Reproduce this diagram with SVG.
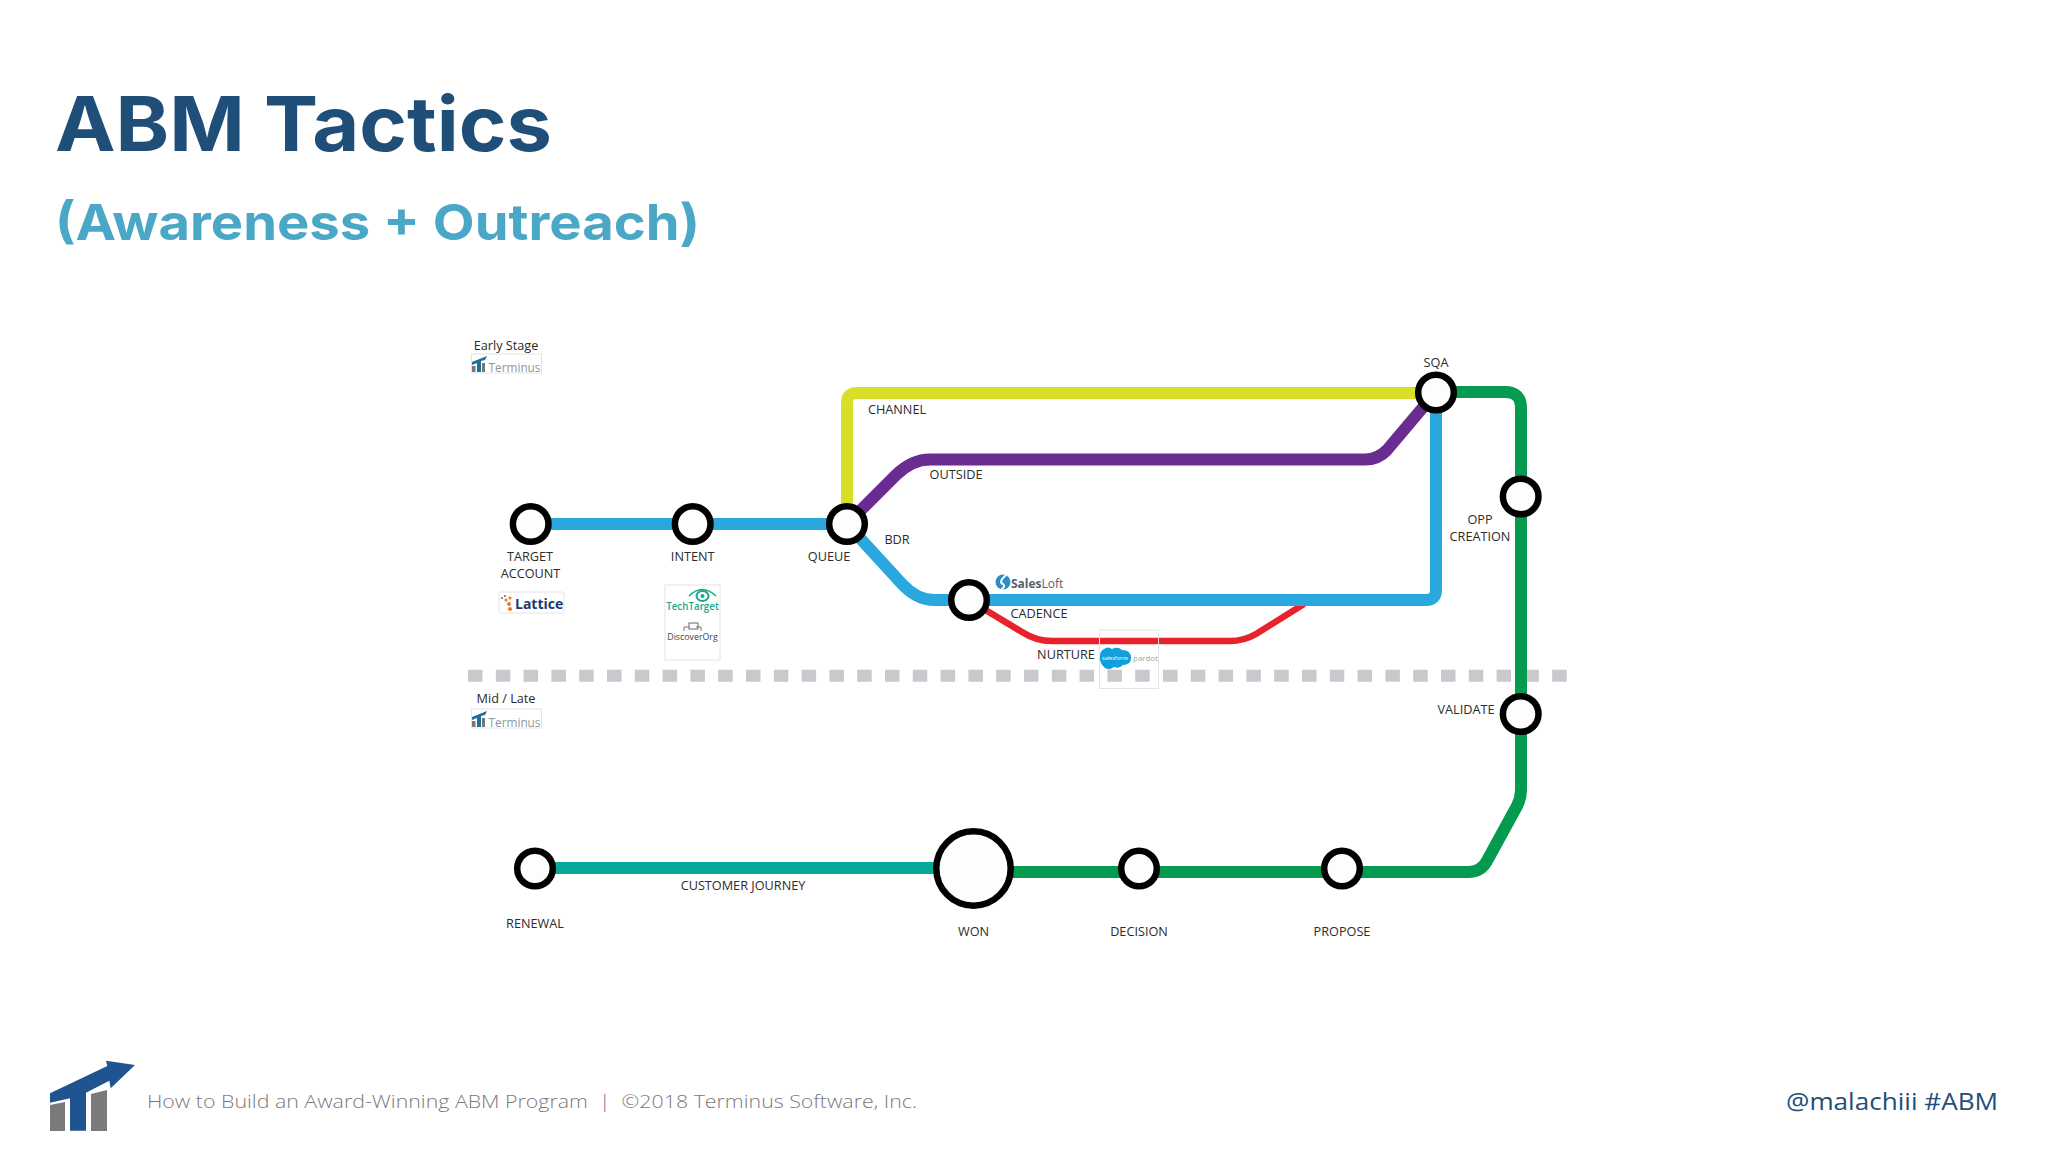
<svg xmlns="http://www.w3.org/2000/svg" width="2048" height="1152" viewBox="0 0 2048 1152">
<style>
.l{fill:none;stroke-width:12;stroke-linejoin:round}
.n{fill:#fdfdfe;stroke:#000;stroke-width:6.5}
.t{font-family:"Open Sans",sans-serif;font-size:12.7px;fill:#2b2b2b;text-anchor:middle}
.box{fill:#fff;stroke:#e4e4e8;stroke-width:1}
.tm{font-family:"Open Sans",sans-serif;font-size:13px;fill:#8f979c}
.fm{fill:#1f6f96}
</style>
<rect width="2048" height="1152" fill="#fff"/>
<g id="heading">
<text x="55" y="151" font-family="Inter,sans-serif" font-weight="700" font-size="76" fill="#1f4e79" textLength="497" lengthAdjust="spacingAndGlyphs">ABM Tactics</text>
<text x="55" y="240" font-family="Inter,sans-serif" font-weight="700" font-size="50" fill="#4ba7c6" textLength="645" lengthAdjust="spacingAndGlyphs">(Awareness + Outreach)</text>
</g>
<g id="connectors">
<path class="l" stroke="#c9c8cc" stroke-dasharray="14.5 13.3" d="M468 675.700H1580"/>
<path class="l" stroke="#d9de26" d="M847 524V403Q847 393 857 393H1436"/>
<path class="l" stroke="#6a2c91" d="M847 524L896 475Q912 459.500 930 459.500H1365Q1378 459.500 1387 450L1436 392"/>
<path stroke="#e8222c" stroke-width="6.500" fill="none" d="M969 600L1022 632Q1036 641 1052 641H1230Q1244 641 1256 634L1304 604"/>
<path class="l" stroke="#2aa7de" d="M530.500 524H847L902 584Q917 600 934 600H1426Q1436 600 1436 590V392"/>
<path class="l" stroke="#049a4f" d="M1436 392H1505Q1521 392 1521 408V790Q1521 798 1517 806L1488 859Q1482 872 1468 872H973"/>
<path class="l" stroke="#04a99a" d="M535 868H973"/>
</g>
<g id="target-account"><circle class="n" cx="530.700" cy="524" r="17.800"/><text class="t" x="530" y="561">TARGET</text><text class="t" x="530.500" y="578">ACCOUNT</text></g>
<g id="lattice-logo"><rect class="box" x="499" y="592" width="65" height="21" rx="2"/><circle cx="502" cy="598" r="1" fill="#666"/><circle cx="505" cy="596" r="1" fill="#666"/><circle cx="506" cy="600" r="1.500" fill="#e8762c"/><circle cx="510" cy="598" r="1.500" fill="#e8762c"/><circle cx="509" cy="604" r="2" fill="#e8762c"/><circle cx="510" cy="609" r="2" fill="#e8762c"/><text x="515" y="609" font-family="Open Sans,sans-serif" font-weight="700" font-size="14" fill="#1d3a6e">Lattice</text></g>
<g id="intent"><circle class="n" cx="692.700" cy="524" r="17.800"/><text class="t" x="692.700" y="561">INTENT</text></g>
<g id="techtarget-logo"><rect class="box" x="665" y="585" width="55" height="75"/><ellipse cx="702.500" cy="596" rx="6" ry="5" fill="none" stroke="#1aa98a" stroke-width="2"/><circle cx="702.500" cy="596" r="2" fill="#1aa98a"/><path d="M689 596Q702 583 716 596" fill="none" stroke="#1aa98a" stroke-width="1.500"/><text x="692.500" y="610" text-anchor="middle" font-family="Open Sans,sans-serif" font-weight="600" font-size="9.800" fill="#1aa98a">TechTarget</text><path d="M684 631V627H689M701 631V627H696" fill="none" stroke="#777"/><rect x="689" y="623" width="9" height="6" fill="none" stroke="#666"/><text x="692.500" y="640" text-anchor="middle" font-family="Open Sans,sans-serif" font-size="8.800" fill="#444">DiscoverOrg</text></g>
<g id="queue"><circle class="n" cx="847" cy="524" r="17.800"/><text class="t" x="829" y="561">QUEUE</text></g>
<g id="cadence"><circle class="n" cx="969" cy="600" r="17.800"/></g>
<g id="sqa"><circle class="n" cx="1436" cy="392.500" r="17.800"/><text class="t" x="1436" y="367">SQA</text></g>
<g id="opp-creation"><circle class="n" cx="1520.700" cy="496.500" r="17.800"/><text class="t" x="1480" y="524">OPP</text><text class="t" x="1480" y="541">CREATION</text></g>
<g id="validate"><circle class="n" cx="1520.700" cy="714" r="17.800"/><text class="t" x="1466" y="714">VALIDATE</text></g>
<g id="renewal"><circle class="n" cx="535" cy="868.500" r="17.800"/><text class="t" x="535" y="928">RENEWAL</text></g>
<g id="won"><circle class="n" cx="973.500" cy="868.500" r="37.200"/><text class="t" x="973.500" y="936">WON</text></g>
<g id="decision"><circle class="n" cx="1139" cy="868.500" r="17.800"/><text class="t" x="1139" y="936">DECISION</text></g>
<g id="propose"><circle class="n" cx="1342" cy="868.500" r="17.800"/><text class="t" x="1342" y="936">PROPOSE</text></g>
<g id="labels">
<text class="t" x="897" y="414">CHANNEL</text>
<text class="t" x="956" y="479">OUTSIDE</text>
<text class="t" x="897" y="544">BDR</text>
<text class="t" x="1039" y="618">CADENCE</text>
<text class="t" x="1066" y="659">NURTURE</text>
<text class="t" x="743" y="890">CUSTOMER JOURNEY</text>
<text class="t" x="506" y="350">Early Stage</text>
<text class="t" x="506" y="703">Mid / Late</text>
</g>
<g id="terminus-early"><rect class="box" x="471.500" y="354" width="70" height="19"/><path class="fm" d="M472 362L487 356L485 360L481 361V372H477V363L472 365Z"/><rect x="472" y="366" width="3.500" height="6" fill="#777"/><rect x="482" y="363" width="3" height="9" fill="#777"/><text class="tm" x="488.500" y="372" textLength="52" lengthAdjust="spacingAndGlyphs">Terminus</text></g>
<g id="terminus-late"><rect class="box" x="471.500" y="709" width="70" height="19"/><path class="fm" d="M472 717L487 711L485 715L481 716V727H477V718L472 720Z"/><rect x="472" y="721" width="3.500" height="6" fill="#777"/><rect x="482" y="718" width="3" height="9" fill="#777"/><text class="tm" x="488.500" y="727" textLength="52" lengthAdjust="spacingAndGlyphs">Terminus</text></g>
<g id="salesloft-logo"><circle cx="1003" cy="582" r="7.500" fill="#2a8fc4"/><path d="M1006 575Q998 582 1003 584Q1006 586 1001 590" stroke="#fff" stroke-width="2" fill="none"/><text x="1011" y="588" font-family="Open Sans,sans-serif" font-weight="700" font-size="12" fill="#55606a">Sales<tspan font-weight="400">Loft</tspan></text></g>
<g id="pardot-logo"><rect x="1099.500" y="630" width="59" height="58.500" fill="none" stroke="#e4e4e8"/><path fill="#12a0dc" d="M1104 649Q1108 646 1112 649Q1118 646 1122 650Q1131 650 1131 658Q1131 665 1123 665Q1119 669 1114 667Q1107 672 1103 666Q1099 661 1100 656Q1100 651 1104 649Z"/><text x="1115" y="660" text-anchor="middle" font-family="Open Sans,sans-serif" font-size="5.500" fill="#fff">salesforce</text><text x="1133" y="661" font-family="Open Sans,sans-serif" font-size="8" fill="#9aa5a5">pardot</text></g>
<g id="footer">
<path fill="#7a7a7c" d="M50 1105L65 1102V1131H50ZM91 1094L107 1090V1131H91Z"/>
<path fill="#205491" d="M50 1102.700V1093.300L107.300 1066L106 1060.700L135 1065L110.700 1088.300L109.300 1080.700L86 1092.700V1130.700H70V1098.300Z"/>
<text x="147" y="1108" font-family="Open Sans,sans-serif" font-weight="300" font-size="19" fill="#7a7a7a" textLength="770" lengthAdjust="spacingAndGlyphs">How to Build an Award-Winning ABM Program&#160;&#160;|&#160;&#160;©2018 Terminus Software, Inc.</text>
<text x="1786" y="1110" font-family="Open Sans,sans-serif" font-size="24" fill="#1f4e79" textLength="212" lengthAdjust="spacingAndGlyphs">@malachiii #ABM</text>
</g>
</svg>
